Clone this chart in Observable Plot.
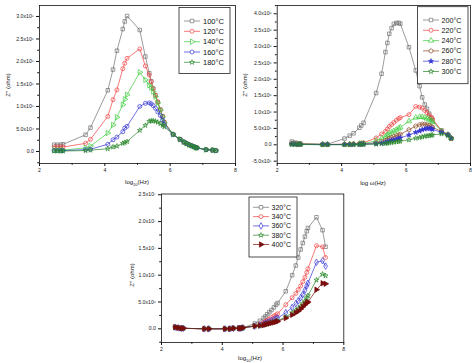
<!DOCTYPE html>
<html><head><meta charset="utf-8">
<script src="https://cdn.jsdelivr.net/npm/d3@7"></script>
<script src="https://cdn.jsdelivr.net/npm/@observablehq/plot@0.6"></script>
<style>
body{margin:0;background:#fff;}
#wrap{position:relative;width:474px;height:363px;overflow:hidden;font-family:Arial,"Liberation Sans",sans-serif;color:#111;}
.pan{position:absolute;}
.lab{position:absolute;font-size:6px;white-space:nowrap;transform:translate(-50%,-50%);}
.ylab{transform:translate(-50%,-50%) rotate(-90deg);}
</style></head><body><div id="wrap"></div>
<script>
// log10 frequency (Hz) of the measurement points
const logFreq = [2.45,2.55,2.65,2.72,3.41,3.56,4.09,4.25,4.37,4.55,4.61,4.68,5.07,5.24,5.36,5.42,5.48,5.55,5.62,5.70,5.77,5.82,6.09,6.30,6.42,6.50,6.58,6.65,6.72,6.78,6.82,7.10,7.30,7.40];

// Panel 1: Z'' in units of 1e5 ohm
const temps1 = ["100°C","120°C","140°C","160°C","180°C"];
const z100 = [0.15,0.15,0.15,0.16,0.37,0.53,1.36,1.82,2.24,2.72,2.89,3.01,2.70,2.11,1.74,1.56,1.40,1.25,1.10,0.93,0.78,0.65,0.38,0.27,0.21,0.18,0.15,0.13,0.11,0.09,0.08,0.04,0.03,0.02];
const z120 = [0.10,0.10,0.10,0.10,0.18,0.27,0.78,1.15,1.37,1.84,1.96,2.07,2.28,1.90,1.70,1.55,1.40,1.25,1.10,0.93,0.78,0.65,0.38,0.27,0.21,0.18,0.15,0.13,0.11,0.09,0.08,0.04,0.03,0.02];
const z140 = [0.03,0.03,0.03,0.03,0.08,0.12,0.41,0.59,0.76,1.04,1.16,1.26,1.76,1.59,1.47,1.42,1.33,1.22,1.08,0.92,0.77,0.64,0.38,0.27,0.21,0.18,0.15,0.13,0.11,0.09,0.08,0.04,0.03,0.02];
const z160 = [0.02,0.02,0.02,0.02,0.04,0.05,0.16,0.26,0.32,0.44,0.52,0.56,1.00,1.07,1.08,1.06,1.02,0.96,0.88,0.80,0.70,0.60,0.38,0.27,0.21,0.18,0.15,0.13,0.11,0.09,0.08,0.04,0.03,0.02];
const z180 = [0.01,0.01,0.01,0.01,0.02,0.03,0.06,0.10,0.12,0.18,0.20,0.22,0.47,0.58,0.67,0.68,0.68,0.67,0.65,0.62,0.58,0.55,0.38,0.27,0.21,0.18,0.15,0.13,0.11,0.09,0.08,0.04,0.03,0.02];

// Panel 2: Z'' in units of 1e6 ohm
const temps2 = ["200°C","220°C","240°C","260°C","280°C","300°C"];
const z200 = [0.10,0.07,0.05,0.04,0.02,0.02,0.19,0.28,0.35,0.52,0.59,0.67,1.58,2.17,2.83,3.11,3.39,3.56,3.69,3.72,3.72,3.70,2.98,2.27,1.79,1.45,1.23,1.10,0.95,0.82,0.75,0.44,0.31,0.20];
const z220 = [0.04,0.03,0.02,0.02,0.01,0.01,0.02,0.02,0.03,0.04,0.05,0.06,0.21,0.33,0.41,0.48,0.56,0.62,0.68,0.75,0.80,0.83,0.92,1.17,1.15,1.12,1.05,0.98,0.90,0.84,0.80,0.42,0.31,0.20];
const z240 = [0.03,0.02,0.02,0.02,0.01,0.01,0.01,0.02,0.02,0.03,0.03,0.04,0.12,0.20,0.25,0.30,0.34,0.38,0.42,0.46,0.50,0.53,0.72,0.83,0.85,0.85,0.83,0.80,0.77,0.74,0.70,0.42,0.31,0.20];
const z260 = [0.03,0.02,0.02,0.02,0.01,0.01,0.01,0.01,0.02,0.02,0.02,0.03,0.06,0.10,0.13,0.16,0.19,0.22,0.25,0.28,0.30,0.32,0.46,0.57,0.61,0.63,0.63,0.61,0.59,0.56,0.54,0.40,0.30,0.20];
const z280 = [0.02,0.02,0.01,0.01,0.01,0.01,0.01,0.01,0.01,0.01,0.02,0.02,0.03,0.05,0.07,0.09,0.11,0.13,0.15,0.17,0.19,0.21,0.30,0.38,0.42,0.46,0.48,0.50,0.50,0.49,0.47,0.38,0.30,0.20];
const z300 = [0.01,0.01,0.01,0.01,0.00,0.00,0.00,0.00,0.01,0.01,0.01,0.01,0.02,0.03,0.04,0.05,0.06,0.07,0.08,0.09,0.10,0.11,0.15,0.20,0.22,0.24,0.26,0.27,0.28,0.29,0.30,0.33,0.28,0.20];

// Panel 3: Z'' in units of 1e7 ohm
const temps3 = ["320°C","340°C","360°C","380°C","400°C"];
const z320 = [0.03,0.02,0.01,0.01,0.00,0.00,0.00,0.00,0.01,0.01,0.01,0.02,0.10,0.15,0.20,0.23,0.27,0.31,0.35,0.40,0.45,0.48,0.70,1.00,1.18,1.33,1.48,1.60,1.72,1.82,1.88,2.08,1.84,1.53];
const z340 = [0.03,0.02,0.01,0.01,0.00,0.00,0.00,0.00,0.01,0.01,0.01,0.02,0.06,0.09,0.12,0.14,0.16,0.18,0.21,0.24,0.26,0.28,0.45,0.58,0.66,0.73,0.80,0.88,0.96,1.05,1.12,1.55,1.53,1.33];
const z360 = [0.03,0.02,0.01,0.01,0.00,0.00,0.00,0.00,0.01,0.01,0.01,0.02,0.05,0.07,0.09,0.10,0.12,0.13,0.15,0.17,0.19,0.20,0.30,0.40,0.47,0.52,0.58,0.64,0.72,0.80,0.85,1.24,1.27,1.17];
const z380 = [0.03,0.02,0.01,0.01,0.00,0.00,0.00,0.00,0.01,0.01,0.01,0.02,0.05,0.06,0.07,0.08,0.09,0.10,0.11,0.13,0.14,0.15,0.22,0.30,0.34,0.38,0.42,0.47,0.52,0.58,0.62,0.91,1.02,0.99];
const z400 = [0.03,0.02,0.01,0.01,0.00,0.00,0.00,0.00,0.01,0.01,0.01,0.02,0.05,0.06,0.07,0.08,0.09,0.10,0.11,0.12,0.13,0.14,0.20,0.26,0.30,0.33,0.37,0.41,0.45,0.48,0.50,0.73,0.85,0.84];

// Tick values (in panel units) and their labels
const xTicks = [2,4,6,8];
const xMinor = [3,5,7];
const yTicks1 = [0,0.5,1,1.5,2,2.5,3];
const yLabels1 = ["0.0","5.0x10⁴","1.0x10⁵","1.5x10⁵","2.0x10⁵","2.5x10⁵","3.0x10⁵"];
const yTicks2 = [-0.5,0,0.5,1,1.5,2,2.5,3,3.5,4];
const yLabels2 = ["-5.0x10⁵","0.0","5.0x10⁵","1.0x10⁶","1.5x10⁶","2.0x10⁶","2.5x10⁶","3.0x10⁶","3.5x10⁶","4.0x10⁶"];
const yTicks3 = [0,0.5,1,1.5,2,2.5];
const yLabels3 = ["0.0","5.0x10⁶","1.0x10⁷","1.5x10⁷","2.0x10⁷","2.5x10⁷"];

// symbols
const triRight = {draw(ctx, size){const r=Math.sqrt(size/1.299);ctx.moveTo(r,0);ctx.lineTo(-r/2,r*0.866);ctx.lineTo(-r/2,-r*0.866);ctx.closePath();}};
const hexagon = {draw(ctx,size){const r=Math.sqrt(size/2.598);for(let i=0;i<6;i++){const a=Math.PI/3*i+Math.PI/6;const x=r*Math.cos(a),y=r*Math.sin(a);i?ctx.lineTo(x,y):ctx.moveTo(x,y);}ctx.closePath();}};
const smallStar = {draw(ctx,size){d3.symbolStar.draw(ctx,size*0.6);}};

const GRAY="#707070", RED="#f04040", LGREEN="#3ccc3c", BLUE="#3434d4", DGREEN="#2a862a", BROWN="#8a4a26", DRED="#7a0c0c";

const panels = [
  {left:0, top:0, width:240, height:190, mt:5, mr:5, mb:27, ml:39, yDomain:[-0.267,3.244], yTicks:yTicks1, yLabels:yLabels1,
   series:[
    {name:temps1[0], v:z100, c:GRAY, s:d3.symbolSquare},
    {name:temps1[1], v:z120, c:RED, s:d3.symbolCircle},
    {name:temps1[2], v:z140, c:LGREEN, s:triRight},
    {name:temps1[3], v:z160, c:BLUE, s:d3.symbolCircle},
    {name:temps1[4], v:z180, c:DGREEN, s:smallStar}],
   xlab:{html:"log<sub style='font-size:4px'>10</sub>(Hz)", x:137, y:183}, ylab:{x:7.5, y:85},
   legend:{x:179, y:7.5, w:51, h:66, rows:[21,31.3,41.7,52,62.3], lx0:184, lx1:200, tx:203, fs:7.5}},
  {left:235, top:0, width:239, height:190, mt:5, mr:4, mb:27, ml:41.7, yDomain:[-0.571,4.253], yTicks:yTicks2, yLabels:yLabels2,
   series:[
    {name:temps2[0], v:z200, c:GRAY, s:d3.symbolSquare},
    {name:temps2[1], v:z220, c:RED, s:d3.symbolCircle},
    {name:temps2[2], v:z240, c:LGREEN, s:d3.symbolTriangle},
    {name:temps2[3], v:z260, c:BROWN, s:hexagon},
    {name:temps2[4], v:z280, c:BLUE, s:smallStar, fill:true},
    {name:temps2[5], v:z300, c:DGREEN, s:smallStar}],
   xlab:{html:"log ω(Hz)", x:373, y:183}, ylab:{x:245, y:85},
   legend:{x:417.5, y:6.7, w:50.5, h:77, rows:[20,30.3,40.6,50.9,61.2,71.5], lx0:423, lx1:439, tx:441.5, fs:7.2}},
  {left:115, top:185, width:240, height:178, mt:8.5, mr:11.7, mb:21, ml:46, yDomain:[-0.255,2.514], yTicks:yTicks3, yLabels:yLabels3,
   series:[
    {name:temps3[0], v:z320, c:GRAY, s:d3.symbolSquare},
    {name:temps3[1], v:z340, c:RED, s:d3.symbolCircle},
    {name:temps3[2], v:z360, c:BLUE, s:d3.symbolDiamond},
    {name:temps3[3], v:z380, c:DGREEN, s:smallStar},
    {name:temps3[4], v:z400, c:DRED, s:triRight, fill:true}],
   xlab:{html:"log<sub style='font-size:4px'>10</sub>(Hz)", x:250, y:359}, ylab:{x:131.5, y:275},
   legend:{x:249, y:197, w:48, h:60, rows:[207.3,216.6,225.9,235.2,244.5], lx0:253, lx1:269, tx:271.5, fs:7}}
];

const wrap = document.getElementById("wrap");
const R = 2.0;
const SYM_AREA = Math.PI*R*R;

for (const p of panels) {
  const minorY = [];
  const step = p.yTicks[1]-p.yTicks[0];
  for (let v = p.yTicks[0]-step/2; v <= p.yDomain[1]; v += step) if (v >= p.yDomain[0]) minorY.push(v);
  const labelMap = new Map(p.yTicks.map((t,i)=>[t,p.yLabels[i]]));
  const marks = [
    Plot.frame({stroke:"#111", strokeWidth:0.8}),
    Plot.axisX({ticks:xTicks, tickSize:3, tickPadding:1.5, label:null, tickFormat:d=>String(d), stroke:"#111"}),
    Plot.axisX({ticks:xMinor, tickSize:1.8, label:null, tickFormat:()=>"", stroke:"#111"}),
    Plot.axisY({ticks:p.yTicks, tickSize:3, tickPadding:2.5, label:null, tickFormat:d=>labelMap.get(d), stroke:"#111"}),
    Plot.axisY({ticks:minorY, tickSize:1.8, label:null, tickFormat:()=>"", stroke:"#111"})
  ];
  for (const s of p.series) {
    const rows = logFreq.map((x,i)=>({x, y:s.v[i]}));
    marks.push(Plot.line(rows, {x:"x", y:"y", stroke:s.c, strokeWidth:0.7}));
    marks.push(Plot.dot(rows, {x:"x", y:"y", stroke:s.c, fill:s.fill?s.c:"none", symbol:s.s, r:R, strokeWidth:0.7}));
  }
  const svg = Plot.plot({
    width:p.width, height:p.height, marginTop:p.mt, marginRight:p.mr, marginBottom:p.mb, marginLeft:p.ml,
    x:{domain:[2,8]}, y:{domain:p.yDomain},
    style:{fontFamily:"Arial, 'Liberation Sans', sans-serif", fontSize:"5.2px", color:"#222", background:"transparent", overflow:"visible"},
    marks
  });
  const d = document.createElement("div");
  d.className = "pan";
  d.style.left = p.left+"px"; d.style.top = p.top+"px";
  d.appendChild(svg);
  wrap.appendChild(d);

  const xl = document.createElement("div");
  xl.className = "lab"; xl.innerHTML = p.xlab.html;
  xl.style.left = p.xlab.x+"px"; xl.style.top = p.xlab.y+"px";
  wrap.appendChild(xl);
  const yl = document.createElement("div");
  yl.className = "lab ylab"; yl.textContent = "Z'' (ohm)";
  yl.style.left = p.ylab.x+"px"; yl.style.top = p.ylab.y+"px";
  wrap.appendChild(yl);
}

// legends
const ov = d3.select(wrap).append("svg").attr("width",474).attr("height",363)
  .style("position","absolute").style("left","0px").style("top","0px").style("pointer-events","none");
for (const p of panels) {
  const L = p.legend;
  ov.append("rect").attr("x",L.x).attr("y",L.y).attr("width",L.w).attr("height",L.h)
    .attr("fill","#fff").attr("stroke","#222").attr("stroke-width",0.8);
  p.series.forEach((s,i)=>{
    const y = L.rows[i];
    ov.append("line").attr("x1",L.lx0).attr("x2",L.lx1).attr("y1",y).attr("y2",y).attr("stroke",s.c).attr("stroke-width",0.7);
    ov.append("path").attr("d",d3.symbol(s.s, SYM_AREA)()).attr("transform",`translate(${(L.lx0+L.lx1)/2},${y})`)
      .attr("fill",s.fill?s.c:"#fff").attr("stroke",s.c).attr("stroke-width",0.7);
    ov.append("text").attr("x",L.tx).attr("y",y).attr("dy","0.35em").attr("font-size",L.fs)
      .attr("font-family","Arial, 'Liberation Sans', sans-serif").attr("fill","#111").text(s.name);
  });
}
</script></body></html>
